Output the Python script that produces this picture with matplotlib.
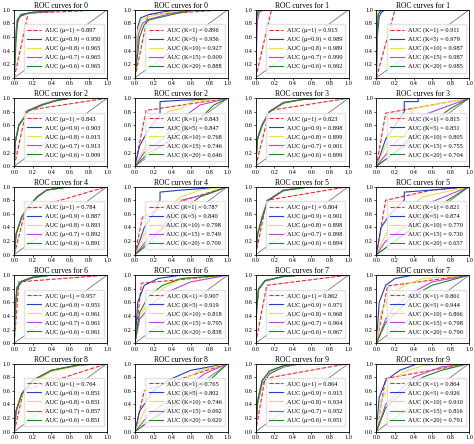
import matplotlib
matplotlib.use("Agg")
import matplotlib.pyplot as plt

plt.rcParams["font.family"] = ["Liberation Serif", "DejaVu Serif"]

COLORS = ["#ff2020", "#1f3fd0", "#e8e04a", "#c040e0", "#1a8a1a"]

MU_LABELS = ["μ=1", "μ=0.9", "μ=0.8", "μ=0.7", "μ=0.6"]
K_LABELS = ["K=1", "K=5", "K=10", "K=15", "K=20"]

TITLES = [
    "ROC curves for 0", "ROC curves for 0", "ROC curves for 1", "ROC curves for 1",
    "ROC curves for 2", "ROC curves for 2", "ROC curves for 3", "ROC curves for 3",
    "ROC curves for 4", "ROC curves for 4", "ROC curves for 5", "ROC curves for 5",
    "ROC curves for 6", "ROC curves for 6", "ROC curves for 7", "ROC curves for 7",
    "ROC curves for 8", "ROC curves for 8", "ROC curves for 9", "ROC curves for 9",
]

# (fpr, tpr) points for each curve, order: red, blue, yellow, magenta, green
ROC0_MU = [
    [(0, 0), (0.15, 0.95), (1, 1)],
    [(0, 0), (0.01, 0.45), (0.03, 0.8), (0.06, 0.9), (0.15, 0.95), (0.4, 0.98), (0.6, 1), (1, 1)],
    [(0, 0), (0.01, 0.5), (0.03, 0.85), (0.07, 0.93), (0.2, 0.96), (0.45, 0.99), (1, 1)],
    [(0, 0), (0.01, 0.5), (0.03, 0.84), (0.07, 0.93), (0.2, 0.96), (0.45, 0.99), (1, 1)],
    [(0, 0), (0.02, 0.55), (0.04, 0.86), (0.08, 0.93), (0.2, 0.965), (0.45, 0.99), (1, 1)],
]
AUC0_MU = [0.897, 0.950, 0.965, 0.965, 0.965]

ROC0_K = [
    [(0, 0), (0.14, 0.93), (1, 1)],
    [(0, 0), (0.03, 0.75), (0.06, 0.88), (0.15, 0.93), (0.3, 0.97), (0.5, 1), (1, 1)],
    [(0, 0), (0.03, 0.7), (0.07, 0.85), (0.15, 0.9), (0.4, 0.97), (0.6, 1), (1, 1)],
    [(0, 0), (0.04, 0.65), (0.08, 0.8), (0.15, 0.86), (0.4, 0.95), (0.6, 1), (1, 1)],
    [(0, 0), (0.05, 0.6), (0.1, 0.78), (0.15, 0.85), (0.4, 0.93), (0.65, 1), (1, 1)],
]
AUC0_K = [0.896, 0.956, 0.927, 0.909, 0.888]

ROC1_MU = [
    [(0, 0), (0.17, 1), (1, 1)],
    [(0, 0), (0.005, 0.6), (0.01, 0.85), (0.03, 0.98), (0.1, 1), (1, 1)],
    [(0, 0), (0.005, 0.62), (0.012, 0.86), (0.03, 0.98), (0.1, 1), (1, 1)],
    [(0, 0), (0.01, 0.5), (0.02, 0.85), (0.04, 0.97), (0.1, 1), (1, 1)],
    [(0, 0), (0.005, 0.65), (0.01, 0.9), (0.03, 0.99), (0.1, 1), (1, 1)],
]
AUC1_MU = [0.915, 0.989, 0.989, 0.990, 0.992]

ROC1_K = [
    [(0, 0), (0.2, 1), (1, 1)],
    [(0, 0), (0.01, 0.6), (0.03, 0.9), (0.06, 0.97), (0.1, 1), (1, 1)],
    [(0, 0), (0.005, 0.7), (0.02, 0.95), (0.05, 0.99), (0.1, 1), (1, 1)],
    [(0, 0), (0.005, 0.68), (0.02, 0.94), (0.05, 0.99), (0.1, 1), (1, 1)],
    [(0, 0), (0.006, 0.66), (0.02, 0.93), (0.05, 0.99), (0.1, 1), (1, 1)],
]
AUC1_K = [0.911, 0.979, 0.987, 0.987, 0.985]

ROC2_MU = [
    [(0, 0), (0.13, 0.82), (1, 1)],
    [(0, 0), (0.01, 0.35), (0.05, 0.6), (0.1, 0.7), (0.15, 0.82), (0.3, 0.9), (0.45, 0.97), (0.6, 1), (1, 1)],
    [(0, 0), (0.01, 0.37), (0.05, 0.62), (0.1, 0.71), (0.15, 0.82), (0.3, 0.91), (0.45, 0.97), (0.6, 1), (1, 1)],
    [(0, 0), (0.01, 0.36), (0.05, 0.61), (0.1, 0.7), (0.15, 0.82), (0.3, 0.91), (0.45, 0.97), (0.6, 1), (1, 1)],
    [(0, 0), (0.01, 0.34), (0.05, 0.6), (0.1, 0.7), (0.15, 0.81), (0.3, 0.9), (0.45, 0.96), (0.6, 1), (1, 1)],
]
AUC2_MU = [0.843, 0.903, 0.915, 0.913, 0.909]

ROC2_K = [
    [(0, 0), (0.12, 0.82), (1, 1)],
    [(0, 0), (0.05, 0.3), (0.15, 0.55), (0.27, 0.75), (0.27, 0.95), (0.5, 0.97), (1, 1)],
    [(0, 0), (0.1, 0.25), (0.25, 0.5), (0.35, 0.6), (0.35, 0.8), (0.5, 0.85), (0.6, 0.95), (1, 1)],
    [(0, 0), (0.1, 0.2), (0.3, 0.4), (0.4, 0.55), (0.5, 0.6), (0.55, 0.75), (0.7, 0.9), (1, 1)],
    [(0, 0), (0.15, 0.2), (0.35, 0.35), (0.45, 0.5), (0.6, 0.55), (0.7, 0.7), (0.85, 0.9), (1, 1)],
]
AUC2_K = [0.843, 0.847, 0.768, 0.746, 0.646]

ROC3_MU = [
    [(0, 0), (0.15, 0.82), (1, 1)],
    [(0, 0), (0.02, 0.4), (0.07, 0.6), (0.15, 0.8), (0.3, 0.93), (0.5, 0.98), (0.7, 1), (1, 1)],
    [(0, 0), (0.02, 0.41), (0.07, 0.61), (0.15, 0.8), (0.3, 0.93), (0.5, 0.98), (0.7, 1), (1, 1)],
    [(0, 0), (0.02, 0.42), (0.07, 0.62), (0.15, 0.81), (0.3, 0.94), (0.5, 0.98), (0.7, 1), (1, 1)],
    [(0, 0), (0.02, 0.4), (0.07, 0.6), (0.15, 0.8), (0.3, 0.93), (0.5, 0.98), (0.7, 1), (1, 1)],
]
AUC3_MU = [0.823, 0.898, 0.899, 0.901, 0.899]

ROC3_K = [
    [(0, 0), (0.1, 0.78), (1, 1)],
    [(0, 0), (0.1, 0.4), (0.2, 0.6), (0.3, 0.8), (0.3, 0.95), (0.45, 0.95), (0.45, 1), (1, 1)],
    [(0, 0), (0.1, 0.3), (0.25, 0.5), (0.35, 0.7), (0.4, 0.85), (0.6, 0.9), (1, 1)],
    [(0, 0), (0.15, 0.25), (0.2, 0.35), (0.3, 0.45), (0.35, 0.55), (0.5, 0.75), (0.7, 0.85), (1, 1)],
    [(0, 0), (0.2, 0.2), (0.35, 0.4), (0.5, 0.55), (0.65, 0.7), (0.8, 0.85), (1, 1)],
]
AUC3_K = [0.815, 0.851, 0.805, 0.755, 0.704]

ROC4_MU = [
    [(0, 0), (0.12, 0.65), (1, 1)],
    [(0, 0), (0.02, 0.3), (0.08, 0.55), (0.15, 0.7), (0.25, 0.85), (0.35, 0.95), (0.5, 0.98), (0.6, 1), (1, 1)],
    [(0, 0), (0.02, 0.31), (0.08, 0.56), (0.15, 0.71), (0.25, 0.86), (0.35, 0.95), (0.5, 0.98), (0.6, 1), (1, 1)],
    [(0, 0), (0.02, 0.31), (0.08, 0.56), (0.15, 0.7), (0.25, 0.86), (0.35, 0.95), (0.5, 0.98), (0.6, 1), (1, 1)],
    [(0, 0), (0.02, 0.3), (0.08, 0.55), (0.15, 0.7), (0.25, 0.85), (0.35, 0.95), (0.5, 0.98), (0.6, 1), (1, 1)],
]
AUC4_MU = [0.784, 0.887, 0.893, 0.892, 0.891]

ROC4_K = [
    [(0, 0), (0.08, 0.55), (0.3, 0.7), (1, 1)],
    [(0, 0), (0.1, 0.4), (0.2, 0.6), (0.27, 0.8), (0.27, 0.92), (0.5, 0.95), (1, 1)],
    [(0, 0), (0.1, 0.3), (0.3, 0.55), (0.4, 0.75), (0.5, 0.85), (0.7, 0.95), (1, 1)],
    [(0, 0), (0.15, 0.25), (0.3, 0.4), (0.4, 0.6), (0.5, 0.8), (0.8, 0.9), (1, 1)],
    [(0, 0), (0.2, 0.25), (0.35, 0.45), (0.45, 0.6), (0.6, 0.75), (0.7, 0.85), (1, 1)],
]
AUC4_K = [0.787, 0.840, 0.798, 0.749, 0.709]

ROC5_MU = [
    [(0, 0), (0.12, 0.8), (1, 1)],
    [(0, 0), (0.02, 0.3), (0.07, 0.55), (0.13, 0.8), (0.3, 0.95), (0.6, 1), (1, 1)],
    [(0, 0), (0.02, 0.31), (0.07, 0.56), (0.13, 0.8), (0.3, 0.95), (0.6, 1), (1, 1)],
    [(0, 0), (0.02, 0.3), (0.07, 0.56), (0.13, 0.8), (0.3, 0.95), (0.6, 1), (1, 1)],
    [(0, 0), (0.02, 0.29), (0.07, 0.54), (0.13, 0.79), (0.3, 0.94), (0.6, 1), (1, 1)],
]
AUC5_MU = [0.804, 0.901, 0.898, 0.898, 0.894]

ROC5_K = [
    [(0, 0), (0.1, 0.8), (0.6, 0.95), (1, 1)],
    [(0, 0), (0.05, 0.4), (0.15, 0.6), (0.3, 0.8), (0.3, 0.92), (0.6, 0.95), (1, 1)],
    [(0, 0), (0.1, 0.3), (0.2, 0.45), (0.3, 0.6), (0.4, 0.75), (0.5, 0.85), (1, 1)],
    [(0, 0), (0.1, 0.2), (0.25, 0.35), (0.4, 0.5), (0.45, 0.65), (0.55, 0.75), (1, 1)],
    [(0, 0), (0.15, 0.15), (0.3, 0.3), (0.4, 0.4), (0.5, 0.55), (0.65, 0.7), (1, 1)],
]
AUC5_K = [0.821, 0.874, 0.770, 0.730, 0.657]

ROC6_MU = [
    [(0, 0), (0.05, 0.9), (1, 1)],
    [(0, 0), (0.01, 0.5), (0.03, 0.8), (0.08, 0.9), (0.2, 0.96), (0.4, 1), (1, 1)],
    [(0, 0), (0.01, 0.52), (0.03, 0.82), (0.08, 0.91), (0.2, 0.97), (0.4, 1), (1, 1)],
    [(0, 0), (0.01, 0.52), (0.03, 0.82), (0.08, 0.91), (0.2, 0.97), (0.4, 1), (1, 1)],
    [(0, 0), (0.01, 0.51), (0.03, 0.82), (0.08, 0.91), (0.2, 0.97), (0.4, 1), (1, 1)],
]
AUC6_MU = [0.957, 0.951, 0.961, 0.961, 0.961]

ROC6_K = [
    [(0, 0), (0.07, 0.88), (1, 1)],
    [(0, 0), (0.03, 0.6), (0.1, 0.85), (0.25, 0.95), (0.5, 1), (1, 1)],
    [(0, 0), (0.05, 0.4), (0.15, 0.6), (0.3, 0.8), (0.5, 0.95), (1, 1)],
    [(0, 0), (0.05, 0.35), (0.2, 0.6), (0.35, 0.75), (0.6, 0.9), (1, 1)],
    [(0, 0), (0.05, 0.45), (0.15, 0.7), (0.3, 0.85), (0.5, 0.95), (1, 1)],
]
AUC6_K = [0.907, 0.919, 0.818, 0.795, 0.838]

ROC7_MU = [
    [(0, 0), (0.12, 0.85), (1, 1)],
    [(0, 0), (0.01, 0.5), (0.03, 0.8), (0.1, 0.92), (0.3, 0.98), (0.5, 1), (1, 1)],
    [(0, 0), (0.01, 0.49), (0.03, 0.79), (0.1, 0.92), (0.3, 0.98), (0.5, 1), (1, 1)],
    [(0, 0), (0.01, 0.47), (0.03, 0.78), (0.1, 0.91), (0.3, 0.98), (0.5, 1), (1, 1)],
    [(0, 0), (0.01, 0.48), (0.03, 0.79), (0.1, 0.92), (0.3, 0.98), (0.5, 1), (1, 1)],
]
AUC7_MU = [0.862, 0.971, 0.968, 0.964, 0.967]

ROC7_K = [
    [(0, 0), (0.12, 0.84), (1, 1)],
    [(0, 0), (0.03, 0.6), (0.1, 0.85), (0.2, 0.95), (0.4, 1), (1, 1)],
    [(0, 0), (0.05, 0.45), (0.15, 0.7), (0.3, 0.85), (0.5, 0.95), (1, 1)],
    [(0, 0), (0.1, 0.35), (0.2, 0.55), (0.4, 0.75), (0.6, 0.9), (1, 1)],
    [(0, 0), (0.1, 0.3), (0.25, 0.5), (0.4, 0.7), (0.6, 0.85), (1, 1)],
]
AUC7_K = [0.861, 0.944, 0.866, 0.798, 0.790]

ROC8_MU = [
    [(0, 0), (0.1, 0.6), (1, 1)],
    [(0, 0), (0.02, 0.3), (0.08, 0.55), (0.2, 0.75), (0.4, 0.9), (0.7, 0.98), (1, 1)],
    [(0, 0), (0.02, 0.28), (0.08, 0.52), (0.2, 0.72), (0.4, 0.88), (0.7, 0.97), (1, 1)],
    [(0, 0), (0.02, 0.31), (0.08, 0.56), (0.2, 0.76), (0.4, 0.9), (0.7, 0.98), (1, 1)],
    [(0, 0), (0.02, 0.3), (0.08, 0.55), (0.2, 0.75), (0.4, 0.9), (0.7, 0.98), (1, 1)],
]
AUC8_MU = [0.764, 0.851, 0.831, 0.857, 0.851]

ROC8_K = [
    [(0, 0), (0.1, 0.6), (1, 1)],
    [(0, 0), (0.05, 0.3), (0.2, 0.6), (0.35, 0.75), (0.6, 0.9), (1, 1)],
    [(0, 0), (0.1, 0.3), (0.25, 0.5), (0.45, 0.7), (0.7, 0.9), (1, 1)],
    [(0, 0), (0.15, 0.25), (0.3, 0.4), (0.5, 0.6), (0.75, 0.85), (1, 1)],
    [(0, 0), (0.2, 0.2), (0.4, 0.35), (0.6, 0.55), (0.8, 0.75), (1, 1)],
]
AUC8_K = [0.765, 0.802, 0.746, 0.692, 0.620]

ROC9_MU = [
    [(0, 0), (0.1, 0.78), (1, 1)],
    [(0, 0), (0.02, 0.4), (0.07, 0.7), (0.15, 0.85), (0.3, 0.95), (0.5, 1), (1, 1)],
    [(0, 0), (0.02, 0.42), (0.07, 0.72), (0.15, 0.87), (0.3, 0.96), (0.5, 1), (1, 1)],
    [(0, 0), (0.02, 0.45), (0.07, 0.75), (0.15, 0.89), (0.3, 0.97), (0.5, 1), (1, 1)],
    [(0, 0), (0.02, 0.45), (0.07, 0.75), (0.15, 0.89), (0.3, 0.97), (0.5, 1), (1, 1)],
]
AUC9_MU = [0.864, 0.915, 0.934, 0.952, 0.951]

ROC9_K = [
    [(0, 0), (0.1, 0.78), (1, 1)],
    [(0, 0), (0.03, 0.5), (0.1, 0.75), (0.25, 0.9), (0.45, 1), (1, 1)],
    [(0, 0), (0.05, 0.45), (0.15, 0.7), (0.3, 0.88), (0.5, 0.97), (1, 1)],
    [(0, 0), (0.1, 0.4), (0.25, 0.6), (0.4, 0.8), (0.7, 0.95), (1, 1)],
    [(0, 0), (0.1, 0.35), (0.3, 0.6), (0.5, 0.8), (0.7, 0.9), (1, 1)],
]
AUC9_K = [0.864, 0.926, 0.910, 0.816, 0.791]

PANELS = [
    (ROC0_MU, AUC0_MU, MU_LABELS), (ROC0_K, AUC0_K, K_LABELS),
    (ROC1_MU, AUC1_MU, MU_LABELS), (ROC1_K, AUC1_K, K_LABELS),
    (ROC2_MU, AUC2_MU, MU_LABELS), (ROC2_K, AUC2_K, K_LABELS),
    (ROC3_MU, AUC3_MU, MU_LABELS), (ROC3_K, AUC3_K, K_LABELS),
    (ROC4_MU, AUC4_MU, MU_LABELS), (ROC4_K, AUC4_K, K_LABELS),
    (ROC5_MU, AUC5_MU, MU_LABELS), (ROC5_K, AUC5_K, K_LABELS),
    (ROC6_MU, AUC6_MU, MU_LABELS), (ROC6_K, AUC6_K, K_LABELS),
    (ROC7_MU, AUC7_MU, MU_LABELS), (ROC7_K, AUC7_K, K_LABELS),
    (ROC8_MU, AUC8_MU, MU_LABELS), (ROC8_K, AUC8_K, K_LABELS),
    (ROC9_MU, AUC9_MU, MU_LABELS), (ROC9_K, AUC9_K, K_LABELS),
]


def draw_panel(ax, curves, aucs, labels, title):
    ax.plot([0, 1], [0, 1], color="#777777", lw=0.6)
    for i, (pts, auc, lab) in enumerate(zip(curves, aucs, labels)):
        xs = [p[0] for p in pts]
        ys = [p[1] for p in pts]
        ls = "--" if i == 0 else "-"
        ax.plot(xs, ys, color=COLORS[i], lw=0.8, ls=ls,
                label=f"AUC ({lab}) = {auc:.3f}")
    ax.set_xlim(0, 1)
    ax.set_ylim(0, 1)
    ax.set_xticks([0, 0.2, 0.4, 0.6, 0.8, 1.0])
    ax.set_yticks([0, 0.2, 0.4, 0.6, 0.8, 1.0])
    ax.tick_params(labelsize=4.5, length=1.5, width=0.5, pad=1)
    for s in ax.spines.values():
        s.set_linewidth(0.6)
    ax.set_title(title, fontsize=5.5, pad=1)
    ax.legend(loc="lower right", fontsize=4.6, handlelength=2.2,
              labelspacing=0.5, borderpad=0.5, handletextpad=0.6,
              frameon=True, fancybox=False, edgecolor="#dddddd",
              bbox_to_anchor=(1.0, 0.03))


fig = plt.figure(figsize=(4.74, 4.44), dpi=100)
axes = fig.subplots(5, 4)
fig.subplots_adjust(left=0.03, right=0.99, bottom=0.028, top=0.978,
                    wspace=0.3, hspace=0.3)

for ax, (curves, aucs, labels), title in zip(axes.flat, PANELS, TITLES):
    draw_panel(ax, curves, aucs, labels, title)

fig.savefig("out.png", dpi=100)
